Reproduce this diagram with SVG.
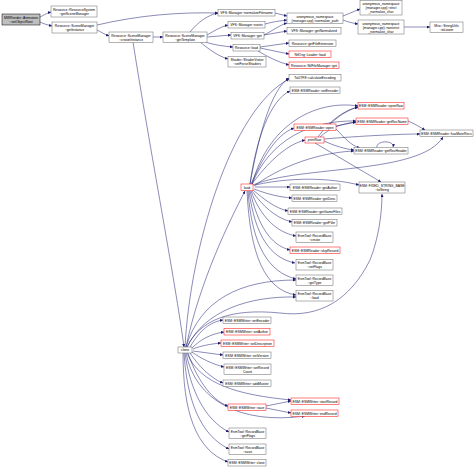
<svg xmlns="http://www.w3.org/2000/svg" width="474" height="467" viewBox="0 0 474 467">
<style>
rect{fill:#fff;stroke:#666;stroke-width:0.5}
.r rect{stroke:#f00}
.root rect{fill:#bfbfbf;stroke:#000}
text{font-family:"Liberation Sans",Arial,sans-serif;font-size:3.4px;text-anchor:middle;fill:#000}
#edges path{fill:none;stroke:#191970;stroke-width:0.5;marker-end:url(#a)}
</style>
<defs>
<marker id="a" markerUnits="userSpaceOnUse" markerWidth="4" markerHeight="4" refX="3" refY="1.5" orient="auto">
<path d="M0,0 L3,1.5 L0,3 Z" fill="#191970"/>
</marker>
</defs>
<rect x="0" y="0" width="474" height="467" style="fill:#fff;stroke:none"/>
<g id="edges">
<path d="M40,17 C44,15 47,13 51,12"/>
<path d="M40,22 C44,24 48,25 52,26"/>
<path d="M97,30 C101,32 104,34 109,36"/>
<path d="M97,25 C140,15 180,12 218,13"/>
<path d="M153,37 L163,37"/>
<path d="M133,42 C150,150 175,280 184,347"/>
<path d="M190,32 C198,22 208,15 218,13"/>
<path d="M207,35 C214,31 220,27 228,25"/>
<path d="M207,37 L231,35"/>
<path d="M205,42 C215,45 222,46 233,47"/>
<path d="M200,42 C210,50 218,56 228,59"/>
<path d="M275,13 L287,16"/>
<path d="M265,24 C272,22 279,21 287,20"/>
<path d="M264,35 C272,31 280,25 287,23"/>
<path d="M264,35 L287,31"/>
<path d="M260,47 L289,43"/>
<path d="M260,48 L289,54"/>
<path d="M258,51 C268,57 278,62 289,65"/>
<path d="M343,16 L360,9"/>
<path d="M343,20 C348,22 352,23 358,24"/>
<path d="M404,27 L430,27"/>
<path d="M250,184 C258,140 270,90 289,78"/>
<path d="M250,184 C256,140 270,100 290,91"/>
<path d="M251,184 C262,160 275,135 294,128"/>
<path d="M252,184 C266,165 285,145 305,140"/>
<path d="M252,184 C270,120 320,100 358,106"/>
<path d="M252,184 C270,140 310,120 356,121"/>
<path d="M253,185 C300,165 420,175 443,137"/>
<path d="M254,186 C290,160 330,152 354,151"/>
<path d="M255,187 L290,187"/>
<path d="M255,185 C300,175 340,180 359,185"/>
<path d="M254,189 C270,195 280,197 292,198"/>
<path d="M253,190 C265,200 275,208 288,211"/>
<path d="M252,191 C262,205 275,218 292,222"/>
<path d="M251,191 C260,215 275,232 296,236"/>
<path d="M250,191 C258,225 270,245 290,250"/>
<path d="M249,191 C255,235 270,258 295,263"/>
<path d="M248,191 C252,245 268,272 296,279"/>
<path d="M247,191 C250,255 265,290 296,295"/>
<path d="M318,137 C330,120 345,110 358,107"/>
<path d="M320,137 C330,128 340,124 356,122"/>
<path d="M324,139 C360,136 400,134 420,134"/>
<path d="M324,141 C335,146 345,149 354,150"/>
<path d="M315,143 L381,182"/>
<path d="M330,124 C340,115 348,110 358,107"/>
<path d="M336,126 L356,122"/>
<path d="M336,129 C345,138 350,145 360,148"/>
<path d="M408,121 C415,124 420,127 425,130"/>
<path d="M377,148 C375,140 395,140 393,147"/>
<path d="M186,347 C200,280 230,220 245,191"/>
<path d="M185,347 C190,250 230,110 289,79"/>
<path d="M187,347 C200,320 230,308 280,313 C320,318 350,300 370,260 C378,240 382,215 382,194"/>
<path d="M186,347 C200,300 240,280 296,280"/>
<path d="M187,347 C205,310 250,296 296,297"/>
<path d="M190,347 C200,330 210,322 223,320"/>
<path d="M192,348 C200,340 210,334 224,332"/>
<path d="M193,349 C200,346 210,344 221,343"/>
<path d="M193,351 L223,355"/>
<path d="M192,352 C200,358 212,364 224,367"/>
<path d="M190,353 C198,365 210,378 223,383"/>
<path d="M188,353 C195,375 210,400 228,406"/>
<path d="M187,353 C200,385 240,395 291,400"/>
<path d="M186,353 C195,400 240,425 305,416"/>
<path d="M266,406 L291,401"/>
<path d="M266,408 L291,413"/>
<path d="M185,353 C190,390 205,420 229,432"/>
<path d="M184,353 C187,400 200,435 229,449"/>
<path d="M183,353 C183,410 195,450 228,462"/>
</g>
<g id="n_root" class="root"><rect x="2" y="14" width="38" height="11"/><text x="21" y="18.7">MWRender::Animation</text><text x="21" y="22.7">::setObjectRoot</text></g>
<g id="n_getSceneManager"><rect x="51" y="6" width="46" height="11"/><text x="74" y="10.7">Resource::ResourceSystem</text><text x="74" y="14.7">::getSceneManager</text></g>
<g id="n_getInstance"><rect x="52" y="22" width="45" height="11"/><text x="74.5" y="26.7">Resource::SceneManager</text><text x="74.5" y="30.7">::getInstance</text></g>
<g id="n_createInstance"><rect x="109" y="32" width="44" height="10.5"/><text x="131" y="36.5">Resource::SceneManager</text><text x="131" y="40.5">::createInstance</text></g>
<g id="n_getTemplate"><rect x="163" y="32" width="44" height="10.5"/><text x="185" y="36.5">Resource::SceneManager</text><text x="185" y="40.5">::getTemplate</text></g>
<g id="n_normalizeFilename"><rect x="218" y="9.5" width="57" height="6.5"/><text x="246.5" y="14">VFS::Manager::normalizeFilename</text></g>
<g id="n_exists"><rect x="228" y="21.5" width="37" height="6.5"/><text x="246.5" y="26">VFS::Manager::exists</text></g>
<g id="n_get"><rect x="231" y="32.5" width="33" height="6.5"/><text x="247.5" y="37">VFS::Manager::get</text></g>
<g id="n_resload"><rect x="233" y="44.5" width="27" height="6.5"/><text x="246.5" y="49">Resource::load</text></g>
<g id="n_setForceShaders"><rect x="228" y="56.5" width="38" height="10.5"/><text x="247" y="61">Shader::ShaderVisitor</text><text x="247" y="65">::setForceShaders</text></g>
<g id="n_normalize_path"><rect x="287" y="13" width="56" height="10.5"/><text x="315" y="17.5">anonymous_namespace</text><text x="315" y="21.5">{manager.cpp}::normalize_path</text></g>
<g id="n_strict"><rect x="360" y="0.5" width="42" height="14.5"/><text x="381" y="5">anonymous_namespace</text><text x="381" y="9">{manager.cpp}::strict</text><text x="381" y="13">_normalize_char</text></g>
<g id="n_nonstrict"><rect x="358" y="20" width="46" height="14"/><text x="381" y="24.5">anonymous_namespace</text><text x="381" y="28.5">{manager.cpp}::nonstrict</text><text x="381" y="32.5">_normalize_char</text></g>
<g id="n_toLower"><rect x="430" y="22" width="33" height="10.5"/><text x="446.5" y="26.5">Misc::StringUtils</text><text x="446.5" y="30.5">::toLower</text></g>
<g id="n_getNormalized"><rect x="287" y="27.5" width="54" height="6.5"/><text x="314" y="32">VFS::Manager::getNormalized</text></g>
<g id="n_getFileExtension"><rect x="289" y="40" width="47" height="6.5"/><text x="312.5" y="44.5">Resource::getFileExtension</text></g>
<g id="n_nifload" class="r"><rect x="289" y="51" width="42" height="6.5"/><text x="310" y="55.5">NifOsg::Loader::load</text></g>
<g id="n_niffileget" class="r"><rect x="289" y="62" width="50" height="6.5"/><text x="314" y="66.5">Resource::NifFileManager::get</text></g>
<g id="n_calcEnc"><rect x="289" y="74.5" width="52" height="6.5"/><text x="315" y="79">ToUTF8::calculateEncoding</text></g>
<g id="n_rsetEncoder"><rect x="290" y="87" width="50" height="6.5"/><text x="315" y="91.5">ESM::ESMReader::setEncoder</text></g>
<g id="n_openRaw" class="r"><rect x="358" y="102.5" width="46" height="6.5"/><text x="381" y="107">ESM::ESMReader::openRaw</text></g>
<g id="n_getRecName" class="r"><rect x="356" y="118" width="52" height="6.5"/><text x="382" y="122.5">ESM::ESMReader::getRecName</text></g>
<g id="n_open" class="r"><rect x="294" y="124" width="42" height="6.5"/><text x="315" y="128.5">ESM::ESMReader::open</text></g>
<g id="n_hasMoreRecs"><rect x="420" y="130" width="53" height="6.5"/><text x="446.5" y="134.5">ESM::ESMReader::hasMoreRecs</text></g>
<g id="n_printRaw" class="r"><rect x="305" y="137" width="19" height="6"/><text x="314.5" y="141.2">printRaw</text></g>
<g id="n_getRecHeader"><rect x="354" y="147.5" width="54" height="6.5"/><text x="381" y="152">ESM::ESMReader::getRecHeader</text></g>
<g id="n_toString"><rect x="359" y="182" width="46" height="11"/><text x="382" y="186.7">ESM::FIXED_STRING_BASE</text><text x="382" y="190.7">::toString</text></g>
<g id="n_load" class="r"><rect x="241" y="184" width="12" height="6.5"/><text x="247" y="188.5">load</text></g>
<g id="n_getAuthor"><rect x="290" y="184" width="50" height="6.5"/><text x="315" y="188.5">ESM::ESMReader::getAuthor</text></g>
<g id="n_getDesc"><rect x="292" y="195" width="45" height="6.5"/><text x="314.5" y="199.5">ESM::ESMReader::getDesc</text></g>
<g id="n_getGameFiles"><rect x="288" y="208" width="54" height="6.5"/><text x="315" y="212.5">ESM::ESMReader::getGameFiles</text></g>
<g id="n_getFVer"><rect x="292" y="219.5" width="45" height="6.5"/><text x="314.5" y="224">ESM::ESMReader::getFVer</text></g>
<g id="n_create"><rect x="296" y="232" width="37" height="10.5"/><text x="314.5" y="236.5">EsmTool::RecordBase</text><text x="314.5" y="240.5">::create</text></g>
<g id="n_skipRecord" class="r"><rect x="290" y="247" width="50" height="6.5"/><text x="315" y="251.5">ESM::ESMReader::skipRecord</text></g>
<g id="n_setFlags"><rect x="296" y="259.5" width="37" height="10.5"/><text x="314.5" y="264">EsmTool::RecordBase</text><text x="314.5" y="268">::setFlags</text></g>
<g id="n_getType"><rect x="296" y="275" width="37" height="10.5"/><text x="314.5" y="279.5">EsmTool::RecordBase</text><text x="314.5" y="283.5">::getType</text></g>
<g id="n_rbload"><rect x="296" y="290.5" width="37" height="10.5"/><text x="314.5" y="295">EsmTool::RecordBase</text><text x="314.5" y="299">::load</text></g>
<g id="n_clone"><rect x="178" y="347" width="14" height="6"/><text x="185" y="351.2">clone</text></g>
<g id="n_wsetEncoder"><rect x="223" y="317" width="48" height="6.5"/><text x="247" y="321.5">ESM::ESMWriter::setEncoder</text></g>
<g id="n_setAuthor" class="r"><rect x="224" y="328.5" width="46" height="6.5"/><text x="247" y="333">ESM::ESMWriter::setAuthor</text></g>
<g id="n_setDescription" class="r"><rect x="221" y="340" width="53" height="6.5"/><text x="247.5" y="344.5">ESM::ESMWriter::setDescription</text></g>
<g id="n_setVersion"><rect x="223" y="352" width="48" height="6.5"/><text x="247" y="356.5">ESM::ESMWriter::setVersion</text></g>
<g id="n_setRecordCount"><rect x="224" y="364" width="47" height="10.5"/><text x="247.5" y="368.5">ESM::ESMWriter::setRecord</text><text x="247.5" y="372.5">Count</text></g>
<g id="n_addMaster"><rect x="223" y="380" width="48" height="6.5"/><text x="247" y="384.5">ESM::ESMWriter::addMaster</text></g>
<g id="n_save" class="r"><rect x="228" y="404" width="38" height="6.5"/><text x="247" y="408.5">ESM::ESMWriter::save</text></g>
<g id="n_startRecord" class="r"><rect x="291" y="398" width="48" height="6.5"/><text x="315" y="402.5">ESM::ESMWriter::startRecord</text></g>
<g id="n_endRecord" class="r"><rect x="291" y="410" width="47" height="6.5"/><text x="314.5" y="414.5">ESM::ESMWriter::endRecord</text></g>
<g id="n_getFlags"><rect x="229" y="428" width="37" height="10.5"/><text x="247.5" y="432.5">EsmTool::RecordBase</text><text x="247.5" y="436.5">::getFlags</text></g>
<g id="n_rbsave"><rect x="229" y="444" width="37" height="10.5"/><text x="247.5" y="448.5">EsmTool::RecordBase</text><text x="247.5" y="452.5">::save</text></g>
<g id="n_wclose"><rect x="228" y="459.5" width="38" height="6.5"/><text x="247" y="464">ESM::ESMWriter::close</text></g>
</svg>
